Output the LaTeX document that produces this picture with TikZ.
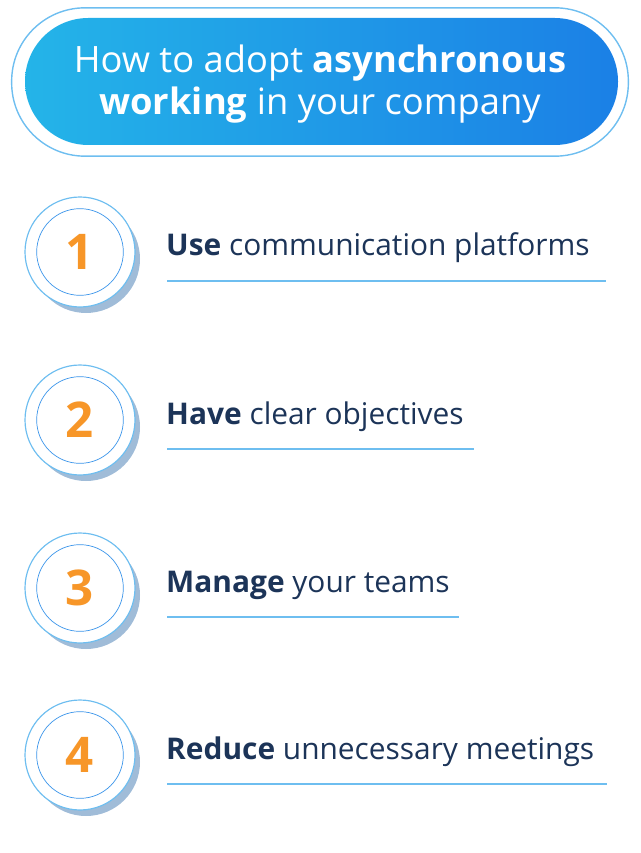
\documentclass[tikz,border=0pt]{standalone}
\usepackage{fontspec}
\setmainfont{Open Sans}
\usetikzlibrary{positioning,shadows}
\definecolor{navy}{RGB}{28,52,88}
\definecolor{skyline}{RGB}{110,190,240}
\definecolor{ringblue}{RGB}{60,150,235}
\definecolor{numorange}{RGB}{247,150,40}
\definecolor{gradleft}{RGB}{36,180,232}
\definecolor{gradright}{RGB}{27,128,230}
\definecolor{shadowblue}{RGB}{120,160,200}

\begin{document}
\begin{tikzpicture}[
    x=0.03cm, y=-0.03cm,
    ring/.style={circle, draw=skyline, line width=1pt, fill=white,
                 minimum size=3.3cm, inner sep=0pt},
    inner/.style={circle, draw=ringblue, line width=0.6pt,
                  minimum size=2.6cm, inner sep=0pt,
                  font=\fontsize{42}{42}\selectfont\bfseries, text=numorange},
    item/.style={anchor=base west, inner sep=0pt,
                 font=\fontsize{25.5}{28}\selectfont, text=navy},
    rule/.style={skyline, line width=1.2pt}
  ]
    \useasboundingbox (0,0) rectangle (640,853);

    % header
    \node[draw=skyline, line width=1.2pt, rounded corners=2.2cm,
          minimum width=18.5cm, minimum height=4.45cm] (frame) at (320,82) {};
    \shade[left color=gradleft, right color=gradright, rounded corners=1.9cm]
        (25,18) rectangle (618,145);
    \node[align=center, text=white, font=\fontsize{31}{36}\selectfont] (title) at (320,84)
        {How to adopt \textbf{asynchronous}\\\textbf{working} in your company};

    % steps
    \foreach \n/\y/\w/\txt in {1/252/606/{\textbf{Use} communication platforms},
                               2/420/474/{\textbf{Have} clear objectives},
                               3/588/459/{\textbf{Manage} your teams},
                               4/755/607/{\textbf{Reduce} unnecessary meetings}} {
      \fill[shadowblue!70] (86,\y+7) circle (1.62cm);
      \node[ring] (r\n) at (80,\y) {};
      \node[inner] (c\n) at (r\n) {\n};
      \node[item] (t\n) at (166,\y+4) {\txt};
      \coordinate (a\n) at (167,\y+29);
      \coordinate (b\n) at (\w,\y+29);
      \draw[rule] (a\n) -- (b\n);
    }
  \end{tikzpicture}
\end{document}
